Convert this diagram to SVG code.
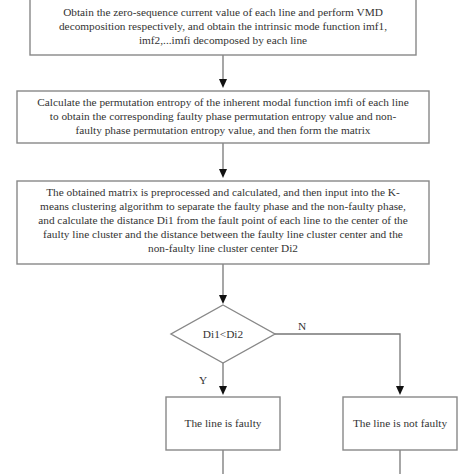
<svg xmlns="http://www.w3.org/2000/svg" width="474" height="474" viewBox="0 0 474 474">
<defs>
<style>
.box{fill:#fff;stroke:#888;stroke-width:1.4}
.ln{fill:none;stroke:#777;stroke-width:1.3}
.ah{fill:#111}
.t{font-family:"Liberation Serif","Times New Roman",serif;font-size:11.3px;fill:#333;text-anchor:middle}
</style>
</defs>
<rect width="474" height="474" fill="#fff"/>
<g id="connectors">
<line class="ln" x1="223" y1="55" x2="223" y2="79"/>
<path class="ah" d="M219,79 L227,79 L223,88 Z"/>
<line class="ln" x1="223" y1="143" x2="223" y2="169"/>
<path class="ah" d="M219,169 L227,169 L223,178 Z"/>
<line class="ln" x1="223" y1="264" x2="223" y2="295"/>
<path class="ah" d="M219,295 L227,295 L223,304 Z"/>
<line class="ln" x1="223" y1="363" x2="223" y2="386"/>
<path class="ah" d="M219,386 L227,386 L223,395 Z"/>
<polyline class="ln" points="275,334 400,334 400,386"/>
<path class="ah" d="M396,386 L404,386 L400,395 Z"/>
<line class="ln" x1="223" y1="450" x2="223" y2="474"/>
<line class="ln" x1="400" y1="450" x2="400" y2="474"/>
<text class="t" x="302" y="330">N</text>
<text class="t" x="203" y="384">Y</text>
</g>
<g id="n1">
<rect class="box" x="30" y="-5" width="386" height="60"/>
<text class="t" x="223" y="16">Obtain the zero-sequence current value of each line and perform VMD</text>
<text class="t" x="223" y="30">decomposition respectively, and obtain the intrinsic mode function imf1,</text>
<text class="t" x="223" y="44">imf2,...imfi decomposed by each line</text>
</g>
<g id="n2">
<rect class="box" x="17" y="91" width="412" height="52"/>
<text class="t" x="223" y="106">Calculate the permutation entropy of the inherent modal function imfi of each line</text>
<text class="t" x="223" y="120">to obtain the corresponding faulty phase permutation entropy value and non-</text>
<text class="t" x="223" y="134">faulty phase permutation entropy value, and then form the matrix</text>
</g>
<g id="n3">
<rect class="box" x="17" y="181" width="412" height="83"/>
<text class="t" x="223" y="196">The obtained matrix is preprocessed and calculated, and then input into the K-</text>
<text class="t" x="223" y="210">means clustering algorithm to separate the faulty phase and the non-faulty phase,</text>
<text class="t" x="223" y="224">and calculate the distance Di1 from the fault point of each line to the center of the</text>
<text class="t" x="223" y="238">faulty line cluster and the distance between the faulty line cluster center and the</text>
<text class="t" x="223" y="252">non-faulty line cluster center Di2</text>
</g>
<g id="n4">
<polygon class="box" points="223,305 275,334 223,363 171,334"/>
<text class="t" x="223" y="338">Di1&lt;Di2</text>
</g>
<g id="n5">
<rect class="box" x="166" y="397" width="114" height="53"/>
<text class="t" x="223" y="427">The line is faulty</text>
</g>
<g id="n6">
<rect class="box" x="343" y="397" width="114" height="53"/>
<text class="t" x="400" y="427">The line is not faulty</text>
</g>
</svg>
